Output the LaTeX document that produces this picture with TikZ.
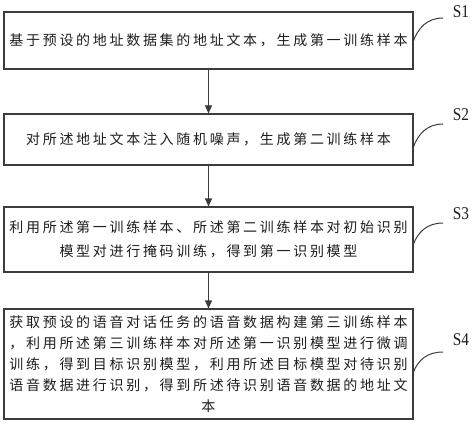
\documentclass[tikz,border=0pt]{standalone}
\usepackage{fontspec}
\usepackage{graphicx}
\setmainfont{Liberation Serif}
\newfontfamily\cjk{Noto Sans CJK SC}
\usetikzlibrary{arrows.meta}
\definecolor{linec}{RGB}{60,60,60}
\definecolor{txtc}{RGB}{30,30,30}
\makeatletter
\newcommand\spc[1]{\spc@loop#1\relax}
\def\spc@loop#1{\ifx\relax#1\else\makebox[16.7pt]{#1}\expandafter\spc@loop\fi}
\makeatother
\begin{document}
\begin{tikzpicture}[x=1pt,y=-1pt,
  box/.style={draw=linec, line width=1.1pt, inner sep=0pt, minimum width=409pt,
    align=center, text=txtc, font=\cjk\fontsize{14pt}{24pt}\selectfont},
  box4/.style={box, font=\cjk\fontsize{14pt}{21pt}\selectfont},
  arr/.style={draw=linec, line width=1.1pt, -{Triangle[width=7pt,length=8pt]}},
  callout/.style={draw=linec, line width=1pt},
  slab/.style={text=txtc, inner sep=0pt, font=\fontsize{18pt}{20pt}\selectfont}]
\useasboundingbox (0,0) rectangle (474,425);
\fill[white] (0,0) rectangle (474,425);

\node[box, minimum height=57pt] (b1) at (208.5,40.5)
  {\spc{基于预设的地址数据集的地址文本，生成第一训练样本}};
\node[box, minimum height=51pt] (b2) at (208.5,139.5)
  {\spc{对所述地址文本注入随机噪声，生成第二训练样本}};
\node[box, minimum height=65pt] (b3) at (208.5,239.5)
  {\spc{利用所述第一训练样本、所述第二训练样本对初始识别}\\
   \spc{模型对进行掩码训练，得到第一识别模型}};
\node[box4, minimum height=110pt] (b4) at (208.5,364)
  {\spc{获取预设的语音对话任务的语音数据构建第三训练样本}\\
   \spc{，利用所述第三训练样本对所述第一识别模型进行微调}\\
   \spc{训练，得到目标识别模型，利用所述目标模型对待识别}\\
   \spc{语音数据进行识别，得到所述待识别语音数据的地址文}\\
   \spc{本}};

\draw[arr] (b1) -- (b2);
\draw[arr] (b2) -- (b3);
\draw[arr] (b3) -- (b4);

\node[slab] (s1) at (461,11.5) {\scalebox{0.85}[1]{S1}};
\node[slab] (s2) at (461,115) {\scalebox{0.85}[1]{S2}};
\node[slab] (s3) at (461,214) {\scalebox{0.85}[1]{S3}};
\node[slab] (s4) at (461,340) {\scalebox{0.85}[1]{S4}};

\coordinate (a1) at (413,42);  \coordinate (e1) at (443,18);
\coordinate (a2) at (413,148); \coordinate (e2) at (443,124);
\coordinate (a3) at (413,245); \coordinate (e3) at (443,223);
\coordinate (a4) at (413,373); \coordinate (e4) at (443,352);

\draw[callout] (a1) .. controls (418,28) and (427,18) .. (e1);
\draw[callout] (a2) .. controls (418,134) and (427,124) .. (e2);
\draw[callout] (a3) .. controls (418,232) and (427,223) .. (e3);
\draw[callout] (a4) .. controls (418,360) and (427,352) .. (e4);
\end{tikzpicture}
\end{document}
